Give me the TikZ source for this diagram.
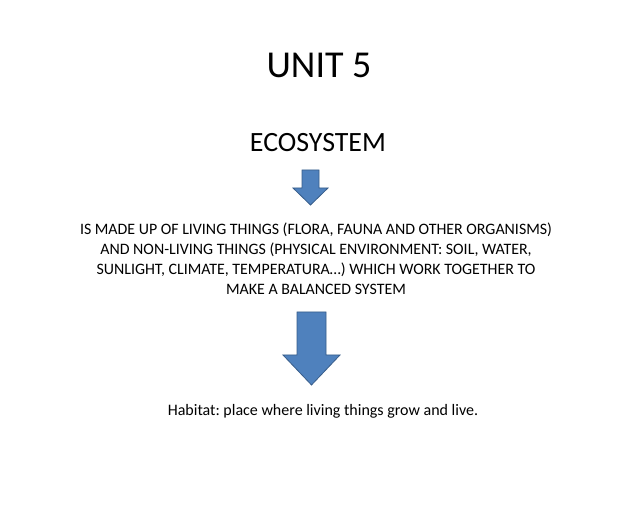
\documentclass[tikz,border=0pt]{standalone}
\usepackage{fontspec}
\setmainfont{Carlito}
\frenchspacing
\definecolor{arrowfill}{RGB}{79,129,189}
\definecolor{arrowline}{RGB}{56,93,138}
\begin{document}
\begin{tikzpicture}[x=1pt,y=-1pt,
  txt/.style={inner sep=0pt,align=center,text=black},
  bigarrow/.style={fill=arrowfill,draw=arrowline,line width=0.8pt,line join=miter}]
\useasboundingbox[fill=white] (0,0) rectangle (638,518);
\node[txt,font=\fontsize{38}{42}\selectfont] (title) at (319,65) {UNIT 5};
\node[txt,font=\fontsize{27.9}{32}\selectfont] (eco) at (318,143) {ECOSYSTEM};
\node[txt,font=\fontsize{15.9}{20}\selectfont\frenchspacing] (desc) at (316,259) {IS MADE UP OF LIVING THINGS (FLORA, FAUNA AND OTHER ORGANISMS)\\AND NON-LIVING THINGS (PHYSICAL ENVIRONMENT: SOIL, WATER,\\SUNLIGHT, CLIMATE, TEMPERATURA…) WHICH WORK TOGETHER TO\\MAKE A BALANCED SYSTEM};
\node[txt,font=\fontsize{16}{20}\selectfont\frenchspacing] (hab) at (323,411) {Habitat: place where living things grow and live.};
% small arrow
\draw[bigarrow] (302,170) -- (319,170) -- (319,188) -- (328,188) -- (310.5,205) -- (293,188) -- (302,188) -- cycle;
% large arrow
\draw[bigarrow] (297,312) -- (326,312) -- (326,355) -- (340,355) -- (311.5,385) -- (283,355) -- (297,355) -- cycle;
\end{tikzpicture}
\end{document}
